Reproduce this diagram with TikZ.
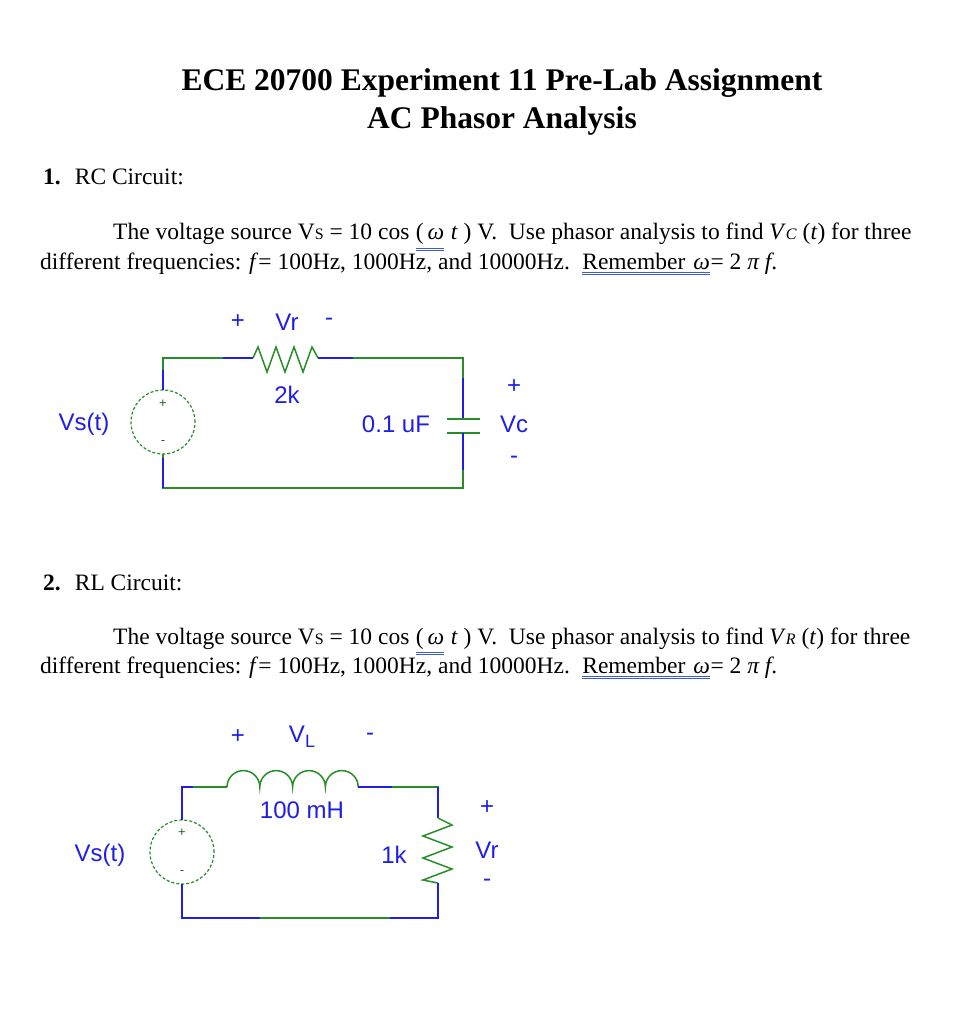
\documentclass[tikz,border=0pt]{standalone}
\usepackage{fontspec}
\setmainfont{Liberation Serif}
\setsansfont{Liberation Sans}
\definecolor{wg}{RGB}{40,140,40}
\definecolor{wb}{RGB}{30,30,230}
\definecolor{ul}{RGB}{60,90,200}
\newcommand{\smS}[1]{{\fontsize{16}{16}\selectfont #1}}
\newcommand{\ulb}[1]{\tikz[baseline=(u.base)]{\node[inner sep=0pt](u){#1};\draw[ul,line width=0.9pt]([yshift=-3pt]u.south west)--([yshift=-3pt]u.south east);\draw[ul,line width=0.9pt]([yshift=-5.5pt]u.south west)--([yshift=-5.5pt]u.south east);}}
\begin{document}
\begin{tikzpicture}[x=1pt,y=-1pt,
  body/.style={font=\fontsize{23.5}{28}\selectfont,inner sep=0pt,anchor=base west},
  lab/.style={font=\sffamily\fontsize{24}{28}\selectfont,text=wb,inner sep=0pt},
  gw/.style={wg,line width=1.5pt},
  bw/.style={wb,line width=1.5pt},
  src/.style={circle,draw=wg,densely dashed,line width=1.2pt,minimum size=64pt,inner sep=0pt},
  sm/.style={font=\sffamily\fontsize{13}{13}\selectfont,text=wg!70!black,inner sep=0pt}]
\useasboundingbox (0,0) rectangle (979,1024);
\node[font=\bfseries\fontsize{31.5}{36}\selectfont,inner sep=0pt,anchor=base] (t1) at (502,91) {ECE 20700 Experiment 11 Pre-Lab Assignment};
\node[font=\bfseries\fontsize{31.5}{36}\selectfont,inner sep=0pt,anchor=base] (t2) at (502,129) {AC Phasor Analysis};
\node[body] (h1) at (43,185) {\textbf{1.}\hspace{14pt}RC Circuit:};
\node[body] (p1a) at (113,240) {The voltage source V\smS{S} = 10 cos \ulb{(\,\textit{ω}} \textit{t} ) V.\ \ Use phasor analysis to find \textit{V}\smS{\textit{C}} (\textit{t}) for three};
\node[body] (p1b) at (40,269) {different frequencies: \textit{f}= 100Hz, 1000Hz, and 10000Hz.\ \ \ulb{Remember\,\,\textit{ω}}= 2 \textit{π f}.};
\node[body] (h2) at (43,590) {\textbf{2.}\hspace{14pt}RL Circuit:};
\node[body] (p2a) at (113,644) {The voltage source V\smS{S} = 10 cos \ulb{(\,\textit{ω}} \textit{t} ) V.\ \ Use phasor analysis to find \textit{V}\smS{\textit{R}} (\textit{t}) for three};
\node[body] (p2b) at (40,673) {different frequencies: \textit{f}= 100Hz, 1000Hz, and 10000Hz.\ \ \ulb{Remember\,\,\textit{ω}}= 2 \textit{π f}.};

% Circuit 1
\node[src] (s1) at (163,422) {};
\node[sm] (s1p) at (163,404) {+};
\node[sm] (s1m) at (163,443) {-};
\draw[gw] (163,390) -- (163,358) -- (223,358);
\draw[bw] (163,390) -- (163,370);
\draw[bw] (223,358) -- (253,358);
\draw[gw] (253,358) -- (258,347) -- (267,372) -- (276,347) -- (285,372) -- (294,347) -- (303,372) -- (312,347) -- (318,358);
\draw[bw] (318,358) -- (353,358);
\draw[gw] (353,358) -- (463,358) -- (463,378);
\draw[bw] (463,378) -- (463,419);
\draw[gw] (447,419) -- (480,419);
\draw[gw] (447,433) -- (480,433);
\draw[bw] (463,433) -- (463,470);
\draw[gw] (463,470) -- (463,488) -- (163,488) -- (163,454);
\draw[bw] (163,488) -- (163,458);
\node[lab] (l1) at (238,322) {+};
\node[lab] (l2) at (287,322) {Vr};
\node[lab] (l3) at (329,322) {-};
\node[lab] (l4) at (287,395) {2k};
\node[lab] (l5) at (396,424) {0.1 uF};
\node[lab] (l6) at (514,424) {Vc};
\node[lab] (l7) at (514,387) {+};
\node[lab] (l8) at (514,460) {-};
\node[lab] (l9) at (84,424) {Vs(t)};

% Circuit 2
\node[src] (s2) at (182,852) {};
\node[sm] (s2p) at (182,833) {+};
\node[sm] (s2m) at (182,873) {-};
\draw[bw] (182,820) -- (182,787) -- (193,787);
\draw[gw] (193,787) -- (227,787);
\draw[gw] (227,787) arc[start angle=180,end angle=360,radius=16.4] arc[start angle=180,end angle=360,radius=16.4] arc[start angle=180,end angle=360,radius=16.4] arc[start angle=180,end angle=360,radius=16.4];
\draw[bw] (358,787) -- (392,787);
\draw[gw] (392,787) -- (438,787) -- (438,818);
\draw[bw] (438,787) -- (438,818);
\draw[gw] (438,818) -- (452,825) -- (423,836) -- (452,847) -- (423,858) -- (452,869) -- (423,880) -- (438,883);
\draw[bw] (438,883) -- (438,918) -- (182,918) -- (182,884);
\draw[gw] (260,918) -- (390,918);
\node[lab] (m1) at (238,737) {+};
\node[lab] (m2) at (302,737) {V\raisebox{-5pt}{\fontsize{18}{18}\selectfont L}};
\node[lab] (m3) at (370,737) {-};
\node[lab] (m4) at (302,810) {100 mH};
\node[lab] (m5) at (394,855) {1k};
\node[lab] (m6) at (487,850) {Vr};
\node[lab] (m7) at (487,808) {+};
\node[lab] (m8) at (487,883) {-};
\node[lab] (m9) at (100,855) {Vs(t)};
\end{tikzpicture}
\end{document}
